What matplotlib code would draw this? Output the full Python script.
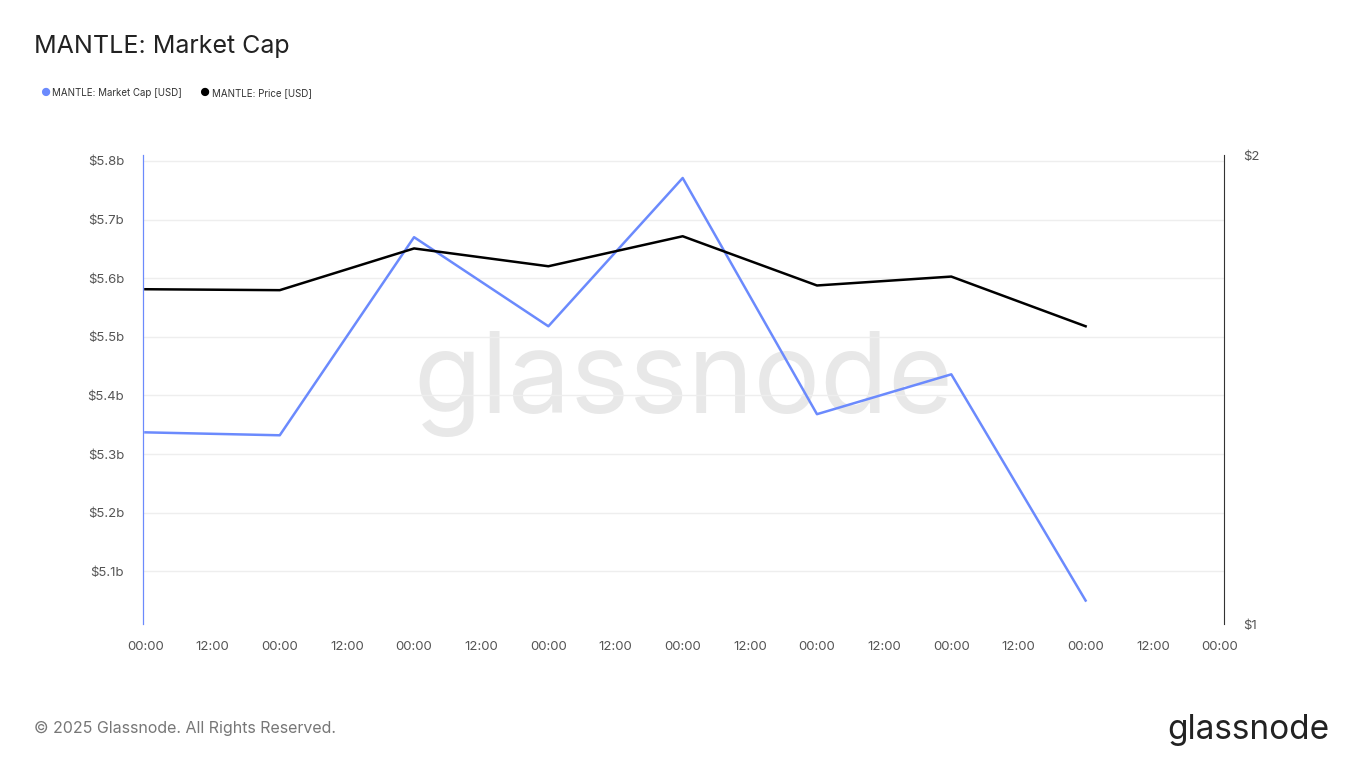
import matplotlib
matplotlib.use("Agg")
import matplotlib.pyplot as plt

days = [0, 1, 2, 3, 4, 5, 6, 7]
market_cap_b = [5.337, 5.332, 5.670, 5.518, 5.771, 5.368, 5.436, 5.050]
price_usd = [1.714, 1.712, 1.801, 1.763, 1.827, 1.722, 1.741, 1.635]
x_ticks = [i * 0.5 for i in range(17)]
x_labels = ["00:00" if i % 2 == 0 else "12:00" for i in range(17)]
left_ticks = [5.1, 5.2, 5.3, 5.4, 5.5, 5.6, 5.7, 5.8]

plt.rcParams['font.family'] = ['Inter', 'DejaVu Sans']
fig = plt.figure(figsize=(13.66, 7.68), dpi=100)
ax = fig.add_axes([0.105, 0.1875, 0.791, 0.6105])
ax.text(0.5, 0.5, "glassnode", fontsize=80, color='#e8e8e8', ha='center', va='center',
        zorder=0, transform=fig.transFigure)
ax2 = ax.twinx()
ax2.patch.set_alpha(0)

blue = '#6b8afd'
ax.plot(days, market_cap_b, color=blue, lw=1.8, zorder=3)
ax2.plot(days, price_usd, color='black', lw=1.8, zorder=3)

ax.set_xlim(-0.015, 8.03)
ax.set_ylim(5.01, 5.81)
ax2.set_ylim(1, 2)
ax.set_yticks(left_ticks)
ax.set_yticklabels([f"${v:.1f}b" for v in left_ticks])
ax2.set_yticks([1, 2])
ax2.set_yticklabels(["$1", "$2"])
ax.set_xticks(x_ticks)
ax.set_xticklabels(x_labels)
ax.grid(axis='y', color='#eeeeee', lw=1)
for a in (ax, ax2):
    for s in ('top', 'bottom'):
        a.spines[s].set_visible(False)
ax.spines['right'].set_visible(False)
ax2.spines['left'].set_color(blue)
ax.spines['left'].set_color(blue)
ax2.spines['right'].set_color('#333333')
ax.tick_params(axis='y', length=0, labelsize=9.5, colors='#555555', pad=14)
ax2.tick_params(axis='y', length=0, labelsize=9.5, colors='#555555', pad=14)
ax.tick_params(axis='x', length=0, labelsize=9.5, colors='#555555', pad=12)

fig.text(0.025, 0.94, "MANTLE: Market Cap", fontsize=18, color='#222222', va='center')
fig.text(0.029, 0.879, "●", fontsize=8, color=blue, va='center')
fig.text(0.038, 0.879, "MANTLE: Market Cap [USD]", fontsize=7, color='#333333', va='center')
fig.text(0.146, 0.879, "●", fontsize=8, color='black', va='center')
fig.text(0.155, 0.879, "MANTLE: Price [USD]", fontsize=7, color='#333333', va='center')
fig.text(0.025, 0.052, "© 2025 Glassnode. All Rights Reserved.", fontsize=11.5, color='#777777', va='center')
fig.text(0.973, 0.05, "glassnode", fontsize=24, color='#222222', ha='right', va='center')
fig.savefig("out.png", dpi=100)
